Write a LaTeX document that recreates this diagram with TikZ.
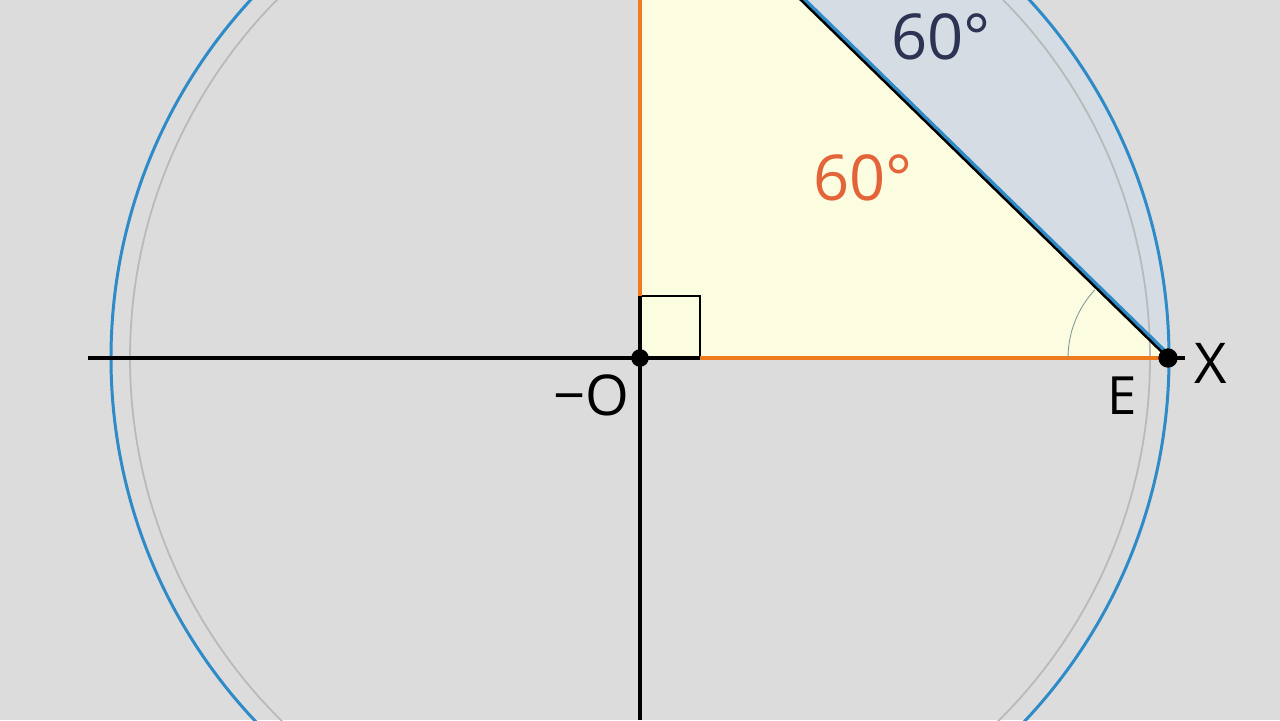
\documentclass[tikz,border=0pt]{standalone}
\usepackage{fontspec}
\setmainfont{Open Sans}
\usetikzlibrary{positioning}

\definecolor{bgGrey}{HTML}{DCDCDC}
\definecolor{ringBlue}{HTML}{2E8BC8}
\definecolor{ringGrey}{HTML}{B9B9B9}
\definecolor{legOrange}{HTML}{F07A1E}
\definecolor{fillYellow}{HTML}{FCFDE0}
\definecolor{fillBlue}{HTML}{D5DCE4}
\definecolor{navyText}{HTML}{2C3353}
\definecolor{orangeText}{HTML}{E4643A}
\definecolor{markTeal}{HTML}{7E9A9A}

\begin{document}
\begin{tikzpicture}[x=0.02cm ,y=-0.02cm ,
    axis/.style ={draw=black ,line width=2pt},
    leg/.style ={draw=legOrange ,line width=2.5pt},
    ring/.style ={draw=ringBlue ,line width=1.7pt},
    lbl/.style ={inner sep=0pt ,text=black ,font=\fontsize{32}{32}\selectfont},
    angle/.style ={inner sep=0pt ,font=\fontsize{36}{36}\selectfont},
    dot/.style ={circle ,fill=black ,inner sep=0pt ,minimum size=10pt}]
    \useasboundingbox (0,0) rectangle (1280,720);
    \fill[bgGrey] (0,0) rectangle (1280,720);
    \begin{scope}
    \clip (0,0) rectangle (1280,720);
    \coordinate (O) at (640,358);
    \coordinate (E) at (1168,358);
    \coordinate (T) at (640,-157);
    \coordinate (Q) at (700,296);
    % shaded parts
    \begin{scope}
      \clip (E) -- (T) -- (1300,-200) -- (1300,358) -- cycle;
      \fill[fillBlue] (O) circle (529);
    \end{scope}
    \fill[fillYellow] (O) -- (E) -- (T) -- cycle;
    % circles
    \draw[ringGrey ,line width=1pt] (O) circle (510);
    \draw[ring] (O) circle (529);
    % axes
    \draw[axis] (88,358) -- (1185,358);
    \draw[axis] (O) -- (640,720);
    \draw[black ,line width=1.4pt] (640,296) -- (Q) -- (700,358);
    \draw[axis] (640,296) -- (O);
    % triangle sides
    \draw[leg] (700,358) -- (E);
    \draw[leg] (640,296) -- (T);
    \draw[ringBlue ,line width=2pt] ([shift={(2,-2)}]E) -- ([shift={(2,-2)}]T);
    \draw[black ,line width=1.4pt] (E) -- (T);
    \draw[markTeal ,line width=0.5pt] (E) ++(180:100) arc[start angle=180 ,end angle=223 ,radius=100];
    \node[dot] (o) at (O) {};
    \node[dot ,minimum size=11pt] (e) at (E) {};
    \end{scope}
    % labels
    \node[lbl] (oLbl) at (591,395) {−O};
    \node[lbl ,font=\fontsize{30}{30}\selectfont] (eLbl) at (1122,396) {E};
    \node[lbl] (xLbl) at (1211,363) {X};
    \node[angle ,text=navyText] (topAngle) at (941,37) {60°};
    \node[angle ,text=orangeText] (midAngle) at (863,178) {60°};
\end{tikzpicture}
\end{document}
